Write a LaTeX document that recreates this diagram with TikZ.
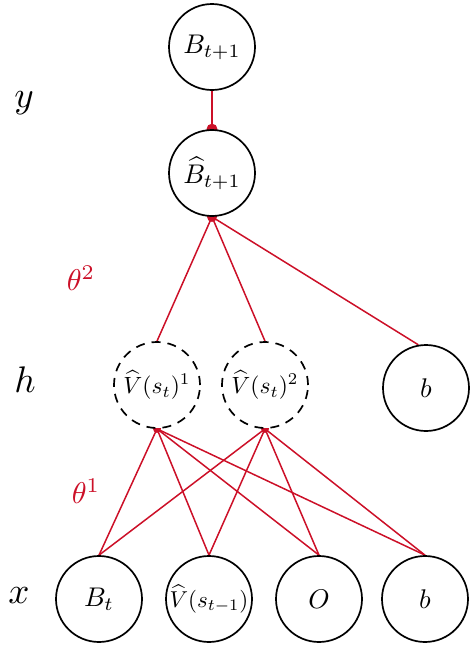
\documentclass[tikz,border=0pt]{standalone}
\usepackage{amsmath}
\usepackage{graphicx}
\usetikzlibrary{backgrounds}
\definecolor{edgered}{RGB}{204,16,40}
\newcommand{\nodetxt}[1]{\scalebox{2.7}{$#1$}}
\newcommand{\laytxt}[1]{\scalebox{3.7}{$#1$}}
\newcommand{\thtxt}[1]{\scalebox{3.0}{$#1$}}
\begin{document}
\begin{tikzpicture}[x=1pt,y=-1pt,
  unit/.style={circle,draw=black,line width=1.7pt,fill=white,minimum size=86pt,inner sep=0pt},
  hid/.style={unit,dash pattern=on 9pt off 7pt},
  lay/.style={inner sep=0pt},
  th/.style={text=edgered,inner sep=0pt},
  wire/.style={draw=edgered,line width=1.5pt},
  dot/.style={fill=edgered}]
\useasboundingbox (0,0) rectangle (474,646);
% layer labels
\node[lay] (ly) at (24,103) {\laytxt{y}};
\node[lay] (lh) at (25,380) {\laytxt{h}};
\node[lay] (lx) at (19,596) {\laytxt{x}};
\node[th] (t2) at (81,278) {\thtxt{\theta^2}};
\node[th] (t1) at (86,491) {\thtxt{\theta^1}};
% nodes
\node[unit] (Bt1) at (212,47) {\nodetxt{B_{t+1}}};
\node[unit] (Bh) at (212,173) {\nodetxt{\widehat{B}_{t+1}}};
\node[hid] (V1) at (157,385) {\scalebox{2.35}{$\widehat{V}(s_t)^1$}};
\node[hid] (V2) at (265,385) {\scalebox{2.35}{$\widehat{V}(s_t)^2$}};
\node[unit] (bh) at (426,388) {\nodetxt{b}};
\node[unit] (Bt) at (99,599) {\nodetxt{B_t}};
\node[unit] (Vs) at (209,599) {\scalebox{2.3}{$\widehat{V}(s_{t-1})$}};
\node[unit] (O) at (319,599) {\nodetxt{O}};
\node[unit] (bx) at (425,599) {\nodetxt{b}};
% wires
\begin{scope}[on background layer]
\draw[wire] (Bt1.south) -- (Bh.north);
\draw[wire] (Bh.south) -- (V1.north);
\draw[wire] (Bh.south) -- (V2.north);
\draw[wire] (Bh.south) -- (bh.100);
\foreach \s in {V1,V2}{
  \foreach \t in {Bt,Vs,O,bx}{
    \draw[wire] (\s.south) -- (\t.north);
  }
}
\fill[dot] (Bh.north) circle (5.5pt);
\fill[dot] (Bh.south) circle (5pt);
\fill[dot] (V1.south) circle (4pt);
\fill[dot] (V2.south) circle (4pt);
\end{scope}
\end{tikzpicture}
\end{document}
